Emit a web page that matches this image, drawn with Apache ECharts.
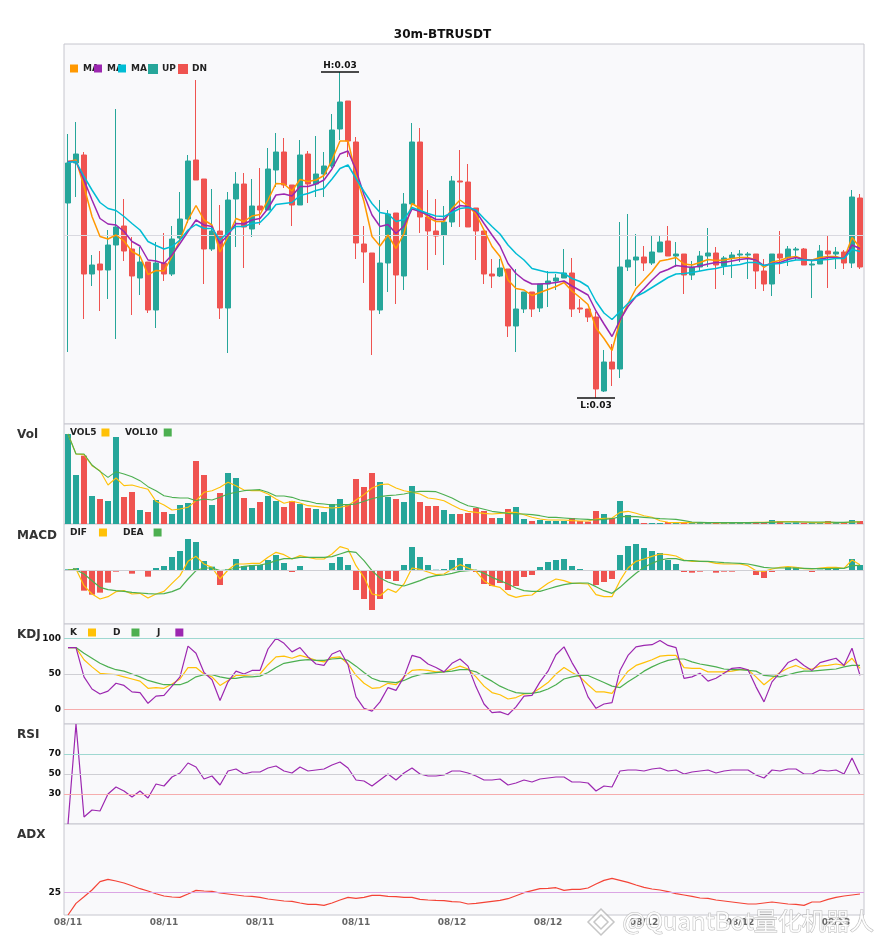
<!DOCTYPE html>
<html><head><meta charset="utf-8">
<script src="https://cdn.jsdelivr.net/npm/echarts@6/dist/echarts.min.js"></script>
<style>html,body{margin:0;padding:0;background:#fff}#c{width:885px;height:950px}</style>
</head><body><div id="c"></div>
<script>
const dates = [
'08/11 03:00','08/11 03:30','08/11 04:00','08/11 04:30','08/11 05:00','08/11 05:30','08/11 06:00','08/11 06:30','08/11 07:00','08/11 07:30',
'08/11 08:00','08/11 08:30','08/11 09:00','08/11 09:30','08/11 10:00','08/11 10:30','08/11 11:00','08/11 11:30','08/11 12:00','08/11 12:30',
'08/11 13:00','08/11 13:30','08/11 14:00','08/11 14:30','08/11 15:00','08/11 15:30','08/11 16:00','08/11 16:30','08/11 17:00','08/11 17:30',
'08/11 18:00','08/11 18:30','08/11 19:00','08/11 19:30','08/11 20:00','08/11 20:30','08/11 21:00','08/11 21:30','08/11 22:00','08/11 22:30',
'08/11 23:00','08/11 23:30','08/12 00:00','08/12 00:30','08/12 01:00','08/12 01:30','08/12 02:00','08/12 02:30','08/12 03:00','08/12 03:30',
'08/12 04:00','08/12 04:30','08/12 05:00','08/12 05:30','08/12 06:00','08/12 06:30','08/12 07:00','08/12 07:30','08/12 08:00','08/12 08:30',
'08/12 09:00','08/12 09:30','08/12 10:00','08/12 10:30','08/12 11:00','08/12 11:30','08/12 12:00','08/12 12:30','08/12 13:00','08/12 13:30',
'08/12 14:00','08/12 14:30','08/12 15:00','08/12 15:30','08/12 16:00','08/12 16:30','08/12 17:00','08/12 17:30','08/12 18:00','08/12 18:30',
'08/12 19:00','08/12 19:30','08/12 20:00','08/12 20:30','08/12 21:00','08/12 21:30','08/12 22:00','08/12 22:30','08/12 23:00','08/12 23:30',
'08/13 00:00','08/13 00:30','08/13 01:00','08/13 01:30','08/13 02:00','08/13 02:30','08/13 03:00','08/13 03:30','08/13 04:00','08/13 04:30'];

const opens = [
0.03064,0.03144,0.03160,0.02922,0.02942,0.02930,0.02980,0.03018,0.02972,0.02914,
0.02946,0.02850,0.02944,0.02922,0.02994,0.03032,0.03150,0.03112,0.02972,0.03008,
0.02854,0.03072,0.03102,0.03012,0.03058,0.03050,0.03130,0.03166,0.03100,0.03060,
0.03162,0.03102,0.03122,0.03138,0.03212,0.03268,0.03186,0.02982,0.02964,0.02850,
0.02944,0.03044,0.02918,0.03062,0.03186,0.03036,0.03008,0.03000,0.03026,0.03108,
0.03106,0.03054,0.03008,0.02922,0.02918,0.02932,0.02818,0.02852,0.02886,0.02854,
0.02902,0.02908,0.02914,0.02924,0.02854,0.02852,0.02836,0.02688,0.02746,0.02732,
0.02936,0.02950,0.02956,0.02944,0.02966,0.02988,0.02958,0.02962,0.02920,0.02936,
0.02958,0.02964,0.02938,0.02954,0.02960,0.02960,0.02962,0.02928,0.02902,0.02962,
0.02954,0.02970,0.02972,0.02940,0.02942,0.02968,0.02962,0.02966,0.02944,0.03074];
const closes = [
0.03144,0.03162,0.02922,0.02940,0.02930,0.02980,0.03016,0.02968,0.02918,0.02946,
0.02850,0.02944,0.02922,0.02992,0.03032,0.03148,0.03110,0.02972,0.03008,0.02854,
0.03070,0.03102,0.03016,0.03058,0.03050,0.03132,0.03166,0.03100,0.03060,0.03160,
0.03102,0.03122,0.03138,0.03210,0.03266,0.03188,0.02984,0.02966,0.02850,0.02944,
0.03042,0.02920,0.03062,0.03186,0.03036,0.03008,0.02998,0.03026,0.03108,0.03106,
0.03016,0.03008,0.02922,0.02918,0.02934,0.02818,0.02852,0.02886,0.02852,0.02902,
0.02908,0.02914,0.02924,0.02852,0.02852,0.02836,0.02692,0.02746,0.02732,0.02936,
0.02950,0.02956,0.02944,0.02966,0.02986,0.02958,0.02962,0.02920,0.02936,0.02958,
0.02964,0.02940,0.02954,0.02960,0.02962,0.02962,0.02928,0.02902,0.02962,0.02954,
0.02972,0.02972,0.02940,0.02942,0.02968,0.02962,0.02966,0.02944,0.03076,0.02936];
const lows = [
0.02766,0.03076,0.02832,0.02898,0.02848,0.02872,0.02792,0.02948,0.02840,0.02880,
0.02844,0.02814,0.02908,0.02918,0.02990,0.03024,0.03110,0.02902,0.02968,0.02832,
0.02764,0.02976,0.02934,0.02996,0.03020,0.03050,0.03096,0.03094,0.03018,0.03060,
0.03064,0.03076,0.03076,0.03134,0.03190,0.03156,0.02952,0.02904,0.02760,0.02842,
0.02886,0.02862,0.02890,0.03062,0.03004,0.02930,0.02960,0.02940,0.03016,0.03016,
0.03016,0.02950,0.02902,0.02894,0.02916,0.02796,0.02766,0.02844,0.02836,0.02846,
0.02856,0.02890,0.02914,0.02836,0.02844,0.02826,0.02674,0.02686,0.02698,0.02714,
0.02928,0.02898,0.02928,0.02940,0.02966,0.02958,0.02936,0.02882,0.02910,0.02928,
0.02936,0.02892,0.02920,0.02914,0.02946,0.02912,0.02892,0.02888,0.02878,0.02922,
0.02938,0.02950,0.02940,0.02874,0.02942,0.02894,0.02932,0.02932,0.02934,0.02932];
const highs = [
0.03202,0.03226,0.03166,0.02960,0.02968,0.03010,0.03252,0.03072,0.02996,0.02976,
0.02946,0.02986,0.03004,0.03018,0.03086,0.03160,0.03310,0.03112,0.03092,0.03060,
0.03086,0.03126,0.03124,0.03112,0.03134,0.03174,0.03204,0.03194,0.03100,0.03190,
0.03168,0.03198,0.03166,0.03242,0.03326,0.03268,0.03196,0.03018,0.02964,0.03070,
0.03050,0.03044,0.03084,0.03224,0.03214,0.03090,0.03072,0.03058,0.03118,0.03170,
0.03142,0.03054,0.03008,0.02952,0.02952,0.02932,0.02932,0.02886,0.02886,0.02902,
0.02928,0.02922,0.02972,0.02954,0.02872,0.02852,0.02846,0.02770,0.02782,0.03026,
0.03042,0.03002,0.02978,0.02998,0.03000,0.03018,0.02986,0.02962,0.02948,0.02968,
0.03014,0.02976,0.02958,0.02966,0.02970,0.02966,0.02962,0.02952,0.02962,0.03008,
0.02978,0.02976,0.02974,0.02952,0.02980,0.02998,0.02976,0.02970,0.03090,0.03082];

const ma5 = [
0.03147,0.03150,0.03097,0.03037,0.02997,0.02992,0.03000,0.02988,0.02967,0.02958,
0.02921,0.02929,0.02928,0.02957,0.02990,0.03030,0.03059,0.03030,0.03020,0.02966,
0.02997,0.03033,0.03027,0.03038,0.03041,0.03070,0.03103,0.03102,0.03088,0.03111,
0.03107,0.03110,0.03119,0.03150,0.03188,0.03188,0.03120,0.03067,0.02997,0.02978,
0.03000,0.02973,0.03003,0.03063,0.03053,0.03035,0.03027,0.03027,0.03053,0.03070,
0.03058,0.03042,0.03010,0.02977,0.02957,0.02910,0.02893,0.02890,0.02879,0.02885,
0.02891,0.02897,0.02905,0.02888,0.02875,0.02861,0.02814,0.02793,0.02769,0.02828,
0.02863,0.02893,0.02910,0.02927,0.02948,0.02951,0.02955,0.02942,0.02940,0.02945,
0.02951,0.02949,0.02950,0.02953,0.02955,0.02955,0.02950,0.02935,0.02946,0.02949,
0.02955,0.02957,0.02951,0.02950,0.02955,0.02957,0.02957,0.02952,0.02995,0.02975];
const ma10 = [
0.03147,0.03147,0.03110,0.03070,0.03033,0.03022,0.03020,0.03007,0.02987,0.02978,
0.02950,0.02948,0.02943,0.02960,0.02983,0.03007,0.03030,0.03020,0.03017,0.02983,
0.03000,0.03023,0.03022,0.03030,0.03033,0.03053,0.03080,0.03082,0.03078,0.03097,
0.03097,0.03102,0.03110,0.03132,0.03162,0.03168,0.03130,0.03080,0.03040,0.03017,
0.03021,0.03003,0.03018,0.03052,0.03047,0.03040,0.03031,0.03031,0.03049,0.03059,
0.03057,0.03047,0.03023,0.03000,0.02978,0.02943,0.02923,0.02910,0.02902,0.02902,
0.02903,0.02905,0.02908,0.02898,0.02889,0.02880,0.02848,0.02822,0.02797,0.02830,
0.02857,0.02877,0.02893,0.02910,0.02925,0.02931,0.02939,0.02937,0.02935,0.02938,
0.02942,0.02945,0.02945,0.02948,0.02951,0.02953,0.02950,0.02939,0.02943,0.02945,
0.02951,0.02955,0.02951,0.02949,0.02951,0.02955,0.02955,0.02953,0.02980,0.02973];
const ma20 = [
0.03145,0.03147,0.03117,0.03090,0.03065,0.03053,0.03049,0.03037,0.03023,0.03010,
0.02987,0.02979,0.02972,0.02977,0.02990,0.03010,0.03021,0.03013,0.03013,0.02990,
0.03005,0.03017,0.03017,0.03023,0.03025,0.03041,0.03061,0.03063,0.03065,0.03079,
0.03083,0.03089,0.03093,0.03112,0.03133,0.03140,0.03113,0.03087,0.03063,0.03045,
0.03042,0.03027,0.03031,0.03055,0.03049,0.03043,0.03038,0.03037,0.03045,0.03053,
0.03055,0.03050,0.03033,0.03017,0.03002,0.02980,0.02963,0.02950,0.02933,0.02929,
0.02925,0.02925,0.02923,0.02913,0.02907,0.02897,0.02867,0.02844,0.02831,0.02847,
0.02863,0.02877,0.02885,0.02895,0.02905,0.02915,0.02922,0.02923,0.02925,0.02928,
0.02931,0.02933,0.02937,0.02939,0.02941,0.02945,0.02945,0.02939,0.02942,0.02943,
0.02947,0.02950,0.02950,0.02949,0.02950,0.02951,0.02953,0.02953,0.02971,0.02967];

const vols = [
270,147,205,84,75,69,261,81,96,42, 36,72,36,30,57,63,189,147,57,93,
153,138,78,48,66,84,69,51,69,60, 48,45,36,60,75,57,135,111,153,126,
81,75,66,114,66,54,54,42,30,30, 33,48,39,18,18,45,51,15,9,12,
9,9,9,18,9,7,39,30,18,69, 27,15,3,3,3,6,4,6,3,3,
3,5,3,5,4,5,6,4,12,9, 3,5,3,3,4,9,3,3,12,9];
const vol5 = [
270,210,208,175,160,117,138,115,117,110, 104,68,57,42,45,50,70,95,100,110,
125,115,102,100,100,90,75,62,68,63, 55,53,50,48,50,55,72,88,108,118,
120,108,100,95,90,78,75,70,57,45, 38,35,32,30,32,35,35,28,20,15,
12,12,12,10,9,9,15,17,18,35, 38,32,25,20,10,5,4,4,4,4,
4,4,3,4,4,4,5,5,6,7, 7,7,6,4,4,5,4,4,6,7];
const vol10 = [
270,210,210,177,158,140,157,150,142,130, 112,100,85,80,78,78,70,75,72,80,
90,95,100,102,103,95,84,84,80,72, 68,62,60,57,58,58,60,68,76,82,
85,87,90,95,98,98,97,88,78,65, 55,50,44,38,35,32,30,30,28,25,
20,20,18,16,15,14,12,14,16,22, 23,22,20,18,16,15,14,10,6,5,
4,4,4,4,4,4,4,4,5,6, 6,6,6,6,6,6,5,5,6,6];

const macdHist = [
2,6,-62,-74,-68,-38,-5,-3,-11,-3, -20,6,12,39,57,93,84,27,10,-45,
2,33,12,15,15,30,45,21,-6,12, -3,-3,0,21,39,15,-60,-87,-120,-87,
-27,-33,15,69,39,15,1,3,30,36, 18,-6,-42,-48,-39,-60,-48,-21,-15,9,
24,30,33,12,3,-3,-45,-36,-27,45, 72,78,66,57,51,30,18,-6,-8,-5,
-3,-8,-5,-5,-3,-3,-15,-24,-6,-3, 9,9,-3,-6,1,6,3,-3,33,15];
const dif = [
0,3,-47,-72,-87,-80,-65,-62,-72,-70, -84,-72,-64,-40,-17,26,41,18,8,-27,
0,18,18,20,20,38,53,46,33,43, 38,33,33,48,70,63,13,-22,-72,-77,
-57,-67,-42,6,2,-6,-14,-12,2,16, 6,-4,-32,-47,-52,-74,-82,-77,-75,-57,
-40,-27,-32,-40,-40,-42,-74,-80,-80,-32, 6,26,33,41,48,46,42,30,26,26,
25,20,18,18,18,13,-2,-4,3,8, 10,8,4,3,6,8,8,5,30,16];
const dea = [
0,1,-12,-32,-52,-59,-62,-64,-67,-69, -71,-72,-71,-65,-55,-27,-2,6,6,-2,
0,6,11,13,15,20,28,34,34,38, 38,38,38,40,48,56,53,28,-2,-24,
-36,-44,-48,-40,-32,-22,-17,-15,-10,-4, -2,0,-10,-22,-32,-42,-54,-62,-64,-64,
-57,-50,-44,-40,-39,-39,-50,-62,-70,-52, -30,-10,8,20,30,34,34,28,28,26,
26,24,22,21,20,18,13,8,6,6, 6,6,5,4,4,4,5,5,13,14];

const kVals = [
87,87,70,60,51,50,49,46,43,40, 30,31,30,36,43,59,59,50,46,34,
41,48,48,49,50,63,74,75,72,76, 73,69,67,73,74,64,48,37,30,31,
37,35,46,55,56,55,53,53,57,61, 57,46,33,24,21,15,17,22,23,30,
38,50,59,52,46,35,25,25,23,39, 54,62,66,70,75,76,76,59,58,58,
53,53,53,54,56,56,46,35,44,52, 58,62,57,57,61,62,64,62,72,58];
const dVals = [
87,87,79,72,65,60,56,54,50,46, 41,38,35,35,35,39,46,49,49,46,
44,44,46,46,47,52,59,65,67,69, 70,69,69,71,72,69,61,52,44,40,
39,38,41,46,49,51,52,53,54,56, 56,53,46,40,33,28,24,23,23,25,
29,35,43,46,48,48,43,38,33,31, 39,46,54,60,65,69,71,71,67,64,
62,60,57,56,56,55,54,48,47,46, 49,52,54,54,55,56,57,60,62,62];
const jVals = [
87,87,46,29,22,26,37,34,25,24, 9,19,20,33,46,89,79,52,42,13,
39,54,50,55,55,85,100,93,81,87, 74,64,62,78,83,63,18,2,-2,11,
31,27,46,76,73,64,59,53,65,71, 61,32,8,-4,-3,-7,4,19,20,39,
54,77,88,66,47,18,2,8,10,55, 76,88,90,91,97,90,87,44,46,51,
40,44,51,58,59,56,32,11,39,52, 66,71,62,55,66,69,72,62,86,48];
const rsiVals = [
0,100,7,14,13,30,37,33,27,33, 26,40,38,47,51,61,57,45,48,39,
53,55,50,52,52,56,58,53,51,57, 53,54,55,59,62,56,44,43,38,44,
50,44,51,56,50,48,48,49,53,53, 51,48,44,44,45,39,41,44,42,45,
46,47,47,42,42,41,33,38,37,53, 54,54,53,55,56,53,54,50,52,53,
54,51,53,54,54,54,49,46,54,53, 55,55,50,50,54,53,54,50,66,49];
const adxVals = [
0,12.8,20,27.5,36.6,39.2,37.4,35.2,32.2,28.9, 26.4,23.4,20.9,19.8,19.4,23.1,27.1,26.4,26,24.2,
23.1,22,20.9,20.5,19.4,17.6,16.5,15.4,15,13.2, 11.7,11.7,10.6,13.2,16.5,19.4,18.3,19.4,21.6,21.6,
20.5,20.1,19.4,19.4,17.2,16.5,16.1,15.8,14.7,14.3, 12.1,12.8,13.9,15,16.1,17.9,21.2,24.5,26.7,28.9,
29.3,30,27.1,28.2,28.2,29.7,34.1,38.1,40.3,38.1, 35.9,33,30.4,28.6,27.5,25.6,23.4,22,20.5,18.7,
18.3,16.5,15.4,14.3,13.2,12.1,12.1,13.2,14.3,13.2, 12.1,11.7,10.6,14.3,14.3,17.2,19.4,20.9,22,23.1];

const kdjLevels = [100, 50, 0];
const rsiLevels = [70, 50, 30];
const adxLevels = [25];

const UP = '#26a69a', DN = '#ef5350';
const TEAL_L = '#9fd8d1', PINK_L = '#f6adad', GREY_L = '#cfcfd4', PURPLE_L = '#dba6e4';

const chart = echarts.init(document.getElementById('c'), null, {renderer: 'canvas'});

const upData = dates.map((d, i) => closes[i] >= opens[i] ? [opens[i], closes[i], lows[i], highs[i]] : ['-', '-', '-', '-']);
const dnData = dates.map((d, i) => closes[i] < opens[i] ? [opens[i], closes[i], lows[i], highs[i]] : ['-', '-', '-', '-']);
const hiIdx = highs.indexOf(Math.max(...highs));
const loIdx = lows.indexOf(Math.min(...lows));

const volData = vols.map((v, i) => ({value: v, itemStyle: {color: closes[i] >= opens[i] ? UP : DN}}));
const macdData = macdHist.map(v => ({value: v, itemStyle: {color: v >= 0 ? UP : DN}}));

const gridBase = {left: 64, right: 21, show: true, backgroundColor: '#f9f9fb', borderColor: '#c6c6ce', borderWidth: 1};
const grids = [
  Object.assign({top: 44, height: 380}, gridBase),
  Object.assign({top: 424, height: 100}, gridBase),
  Object.assign({top: 524, height: 100}, gridBase),
  Object.assign({top: 624, height: 100}, gridBase),
  Object.assign({top: 724, height: 100}, gridBase),
  Object.assign({top: 824, height: 91}, gridBase)
];
const xAxes = grids.map((g, i) => ({
  type: 'category', gridIndex: i, data: dates, boundaryGap: true,
  axisLine: {show: false}, axisTick: {show: false}, splitLine: {show: false},
  axisLabel: i === 5 ? {show: true, interval: 11, formatter: v => v.slice(0, 5), color: '#666', fontWeight: 'bold', fontSize: 9, margin: 3} : {show: false}
}));
const yRange = [[0.02622, 0.03382], [0, 300], [-162, 138], [-20, 120], [0, 100], [0, 100]];
const yAxes = yRange.map((r, i) => ({
  type: 'value', gridIndex: i, min: r[0], max: r[1], scale: true,
  axisLine: {show: false}, axisTick: {show: false}, axisLabel: {show: false}, splitLine: {show: false}
}));

const lvlColor = v => (v === 50 ? GREY_L : (v > 50 ? TEAL_L : PINK_L));
function levelLines(levels, colorFn) {
  return {
    silent: true, symbol: ['none', 'none'], animation: false,
    label: {show: true, position: 'start', distance: 3, formatter: p => String(p.value), color: '#111', fontWeight: 'bold', fontSize: 9},
    data: levels.map(v => ({yAxis: v, lineStyle: {color: colorFn(v), type: 'solid', width: 1}}))
  };
}
function line(name, data, color, xi, width, z) {
  return {name, type: 'line', data, xAxisIndex: xi, yAxisIndex: xi, symbol: 'none', showSymbol: false,
    lineStyle: {color, width: width || 1.2}, itemStyle: {color}, z: z || 3, animation: false};
}
const lbl = {fontSize: 9, fontWeight: 'bold', color: '#111'};
function lg(name, left, top, align, pad, fmt) {
  const o = {data: [name], left, top, orient: 'horizontal', align, icon: 'rect', itemWidth: 8, itemHeight: 8,
    padding: 0, itemGap: 0, selectedMode: false,
    textStyle: {fontSize: 9, fontWeight: 'bold', color: '#222', padding: [0, pad || 0, 0, 0]}};
  if (fmt) o.formatter = fmt;
  return o;
}
const sideTitle = (text, top) => ({text, left: 17, top, padding: 0, textStyle: {fontSize: 12, fontWeight: 'bold', color: '#333'}});

const option = {
  backgroundColor: '#ffffff',
  animation: false,
  textStyle: {fontFamily: 'DejaVu Sans, sans-serif'},
  title: [
    {text: '30m-BTRUSDT', left: 'center', top: 29, padding: 0, textStyle: {fontSize: 12, fontWeight: 'bold', color: '#111'}},
    sideTitle('Vol', 429),
    sideTitle('MACD', 530),
    sideTitle('KDJ', 629),
    sideTitle('RSI', 729),
    sideTitle('ADX', 829)
  ],
  legend: [
    lg('MA5', 70, 64, 'left', 0, () => 'MA'),
    lg('MA10', 94, 64, 'left', 0, () => 'MA'),
    lg('MA20', 118, 64, 'left', 0, () => 'MA'),
    lg('UP', 148, 64, 'left', 0),
    lg('DN', 178, 64, 'left', 0),
    lg('VOL5', 70, 428, 'right', 0),
    lg('VOL10', 125, 428, 'right', 1),
    lg('DIF', 70, 528, 'right', 7),
    lg('DEA', 123, 528, 'right', 5),
    lg('K', 70, 628, 'right', 6),
    lg('D', 113, 628, 'right', 6),
    lg('J', 157, 628, 'right', 10)
  ],
  grid: grids,
  xAxis: xAxes,
  yAxis: yAxes,
  graphic: [
    {type: 'polygon', silent: true, z: 100,
     shape: {points: [[601, 909], [614, 922], [601, 935], [588, 922]]},
     style: {fill: 'rgba(255,255,255,0.8)', stroke: 'rgba(160,160,160,0.6)', lineWidth: 1.5}},
    {type: 'polygon', silent: true, z: 101,
     shape: {points: [[601, 915], [608, 922], [601, 929], [594, 922]]},
     style: {fill: 'rgba(255,255,255,0.8)', stroke: 'rgba(160,160,160,0.6)', lineWidth: 1.5}},
    {type: 'text', left: 622, top: 908, silent: true, z: 100,
     style: {text: '@QuantBot量化机器人', font: '24px "Noto Sans CJK SC", sans-serif', fill: 'rgba(255,255,255,0.85)', stroke: 'rgba(150,150,150,0.65)', lineWidth: 1}}
  ],
  series: [
    {name: 'UP', type: 'candlestick', data: upData, xAxisIndex: 0, yAxisIndex: 0, barWidth: 6,
     itemStyle: {color: UP, color0: UP, borderColor: UP, borderColor0: UP, borderWidth: 1},
     markLine: {silent: true, symbol: ['none', 'none'], label: {show: false}, data: [{yAxis: 0.03, lineStyle: {color: '#d9d9e0', type: 'solid', width: 1}}]},
     markPoint: {symbol: 'rect', symbolSize: [38, 1.5], itemStyle: {color: '#111'},
       label: Object.assign({show: true, position: 'top', distance: 1, formatter: p => 'H:' + p.value.toFixed(2)}, lbl),
       data: [{coord: [dates[hiIdx], highs[hiIdx]], value: highs[hiIdx]}]}},
    {name: 'DN', type: 'candlestick', data: dnData, xAxisIndex: 0, yAxisIndex: 0, barWidth: 6,
     itemStyle: {color: DN, color0: DN, borderColor: DN, borderColor0: DN, borderWidth: 1},
     markPoint: {symbol: 'rect', symbolSize: [38, 1.5], itemStyle: {color: '#111'},
       label: Object.assign({show: true, position: 'bottom', distance: 2, formatter: p => 'L:' + p.value.toFixed(2)}, lbl),
       data: [{coord: [dates[loIdx], lows[loIdx]], value: lows[loIdx]}]}},
    line('MA5', ma5, '#ff9800', 0, 1.5, 5),
    line('MA10', ma10, '#9c27b0', 0, 1.5, 5),
    line('MA20', ma20, '#00bcd4', 0, 1.5, 5),

    {name: 'VOL', type: 'bar', data: volData, xAxisIndex: 1, yAxisIndex: 1, barWidth: 6},
    line('VOL5', vol5, '#ffc107', 1, 1.1),
    line('VOL10', vol10, '#4caf50', 1, 1.1),

    {name: 'MACD', type: 'bar', data: macdData, xAxisIndex: 2, yAxisIndex: 2, barWidth: 6,
     markLine: {silent: true, symbol: ['none', 'none'], label: {show: false}, data: [{yAxis: 0, lineStyle: {color: '#cfcfd4', type: 'solid', width: 1}}]}},
    line('DIF', dif, '#ffc107', 2, 1.2),
    line('DEA', dea, '#4caf50', 2, 1.2),

    Object.assign(line('K', kVals, '#ffc107', 3, 1.2), {markLine: levelLines(kdjLevels, lvlColor)}),
    line('D', dVals, '#4caf50', 3, 1.2),
    line('J', jVals, '#9c27b0', 3, 1.2),

    Object.assign(line('RSI', rsiVals, '#9c27b0', 4, 1.2), {markLine: levelLines(rsiLevels, lvlColor)}),

    Object.assign(line('ADX', adxVals, '#f44336', 5, 1.2), {markLine: levelLines(adxLevels, () => PURPLE_L)})
  ]
};
chart.setOption(option);
</script>
</body></html>
